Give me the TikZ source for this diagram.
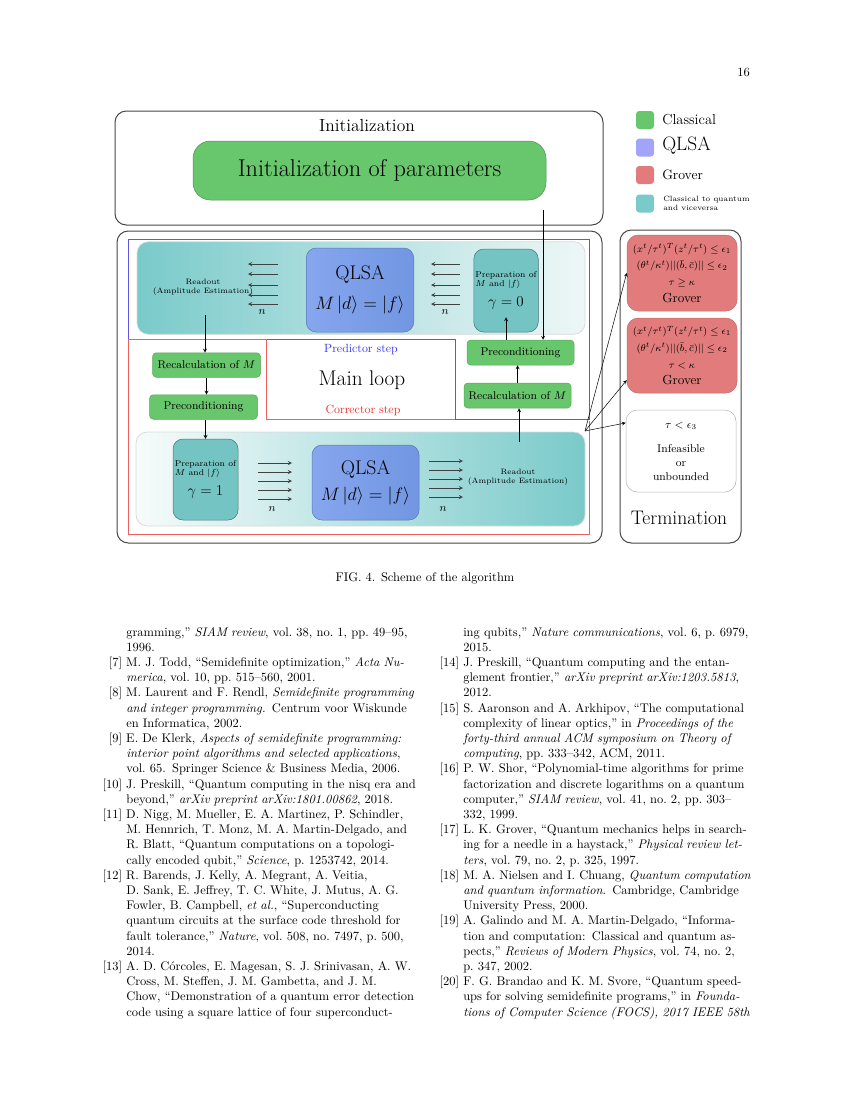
\documentclass[tikz,border=0pt]{standalone}
\usepackage{amsmath}
\usepackage{amssymb}
\usepackage{tikz}
\usetikzlibrary{positioning,calc}

\definecolor{clgreen}{RGB}{104,198,108}
\definecolor{legblue}{RGB}{162,164,250}
\definecolor{qblue}{RGB}{134,166,238}
\definecolor{qblued}{RGB}{114,150,226}
\definecolor{grred}{RGB}{226,124,124}
\definecolor{qteal}{RGB}{122,202,202}
\definecolor{qteall}{RGB}{238,247,247}
\definecolor{prepteal}{RGB}{116,196,196}
\definecolor{framegray}{RGB}{70,70,70}
\definecolor{predblue}{RGB}{55,55,235}
\definecolor{corrred}{RGB}{236,45,45}
\definecolor{predline}{RGB}{95,85,225}
\definecolor{corrline}{RGB}{238,95,95}

\newcommand\fsz[2]{\fontsize{#1}{#2}\selectfont}
\newcommand\bibln[1]{\hbox to\hsize{#1}}
\newcommand\bibend[1]{\hbox to\hsize{#1\hfil}}
\newcommand\biblab[1]{\llap{[#1]\ }}

\begin{document}
\begin{tikzpicture}[x=0.8pt,y=-0.8pt,>=stealth,
  frame/.style={draw=framegray,line width=0.8pt,rounded corners=9pt,inner sep=0pt},
  legsq/.style={rounded corners=2.5pt,minimum size=14.4pt,inner sep=0pt},
  band/.style={draw=black!15,line width=0.6pt,rounded corners=9pt,inner sep=0pt,
    minimum height=74pt},
  qlsabox/.style={draw=qblued!80!black,rounded corners=8pt,left color=qblue,right color=qblued,
    align=center,inner sep=0pt,minimum width=86pt},
  prepbox/.style={fill=prepteal,draw=prepteal!60!black,rounded corners=8pt,align=center,
    inner sep=0pt,minimum width=51.6pt,font=\fsz{6.8}{7.4}},
  clbox/.style={fill=clgreen,draw=clgreen!85!black,rounded corners=3pt,inner sep=0pt,
    minimum width=86.4pt,minimum height=19.6pt,font=\fsz{9}{11}},
  grovbox/.style={fill=grred,draw=grred!85!black,rounded corners=9pt,inner sep=0pt,
    minimum width=88pt,align=center,font=\fsz{8.5}{13.4}},
  readout/.style={align=center,font=\fsz{6.2}{7.4}},
  qline/.style={->,black!75,line width=0.5pt},
  outline/.style={line width=0.7pt},
  bibcol/.style={anchor=base west,inner sep=0pt,text width=229.6pt,font=\fsz{10}{12.16}}]
\useasboundingbox (0,0) rectangle (850,1100);

% page number
\node[anchor=base east,inner sep=0pt,font=\fsz{10}{12}] (pgnum) at (750,76) {16};

% initialization
\node[frame,minimum width=390.4pt,minimum height=91.2pt] (initframe) at (359,168) {};
\node[font=\fsz{14}{17}] (inittitle) at (367,126) {Initialization};
\node[fill=clgreen,draw=clgreen!75!black,rounded corners=14pt,minimum width=282.4pt,
  minimum height=47.2pt,font=\fsz{19.4}{23}] (initpar) at (369.5,170.5) {Initialization of parameters};
\coordinate (initout) at (543,210);

% legend
\node[legsq,fill=clgreen] (legcl) at (645,120) {};
\node[legsq,fill=legblue] (legq) at (645,147.5) {};
\node[legsq,fill=grred] (leggr) at (645,175) {};
\node[legsq,fill=qteal] (legct) at (645,203.5) {};
\node[anchor=west,inner sep=0pt,font=\fsz{11.6}{13}] (legcltxt) at (662,120) {Classical};
\node[anchor=west,inner sep=0pt,font=\fsz{15.5}{17}] (legqtxt) at (662,146) {QLSA};
\node[anchor=west,inner sep=0pt,font=\fsz{10.9}{12}] (leggrtxt) at (662,175) {Grover};
\node[anchor=west,inner sep=0pt,align=left,font=\fsz{6.1}{7.2}] (legcttxt) at (663,203) {Classical to quantum\\and viceversa};

% main loop frame and termination frame
\node[frame,minimum width=388pt,minimum height=249.6pt] (mainframe) at (359.5,387) {};
\node[frame,minimum width=96.8pt,minimum height=250.4pt] (termframe) at (680.5,386.5) {};

% quantum bands
\node[band,minimum width=358.4pt,left color=qteal,right color=qteall] (bandT) at (361,288) {};
\node[band,minimum width=359.2pt,minimum height=75.2pt,left color=qteall!50!white,right color=qteal] (bandB) at (360.5,479) {};

% predictor (blue) and corrector (red) outlines
\draw[outline,predline] (128,339) -- (128,239) -- (589,239) -- (589,419) -- (455,419) -- (455,339) -- (266,339);
\draw[outline,corrline] (589,421) -- (589,534) -- (128,534) -- (128,339) -- (266,339) -- (266,419) -- (455,419);

% top band (predictor)
\node[readout] (readT) at (203,287) {Readout\\(Amplitude Estimation)};
\node[qlsabox,minimum height=67.2pt] (qlsaT) at (360,290)
  {{\fsz{15.8}{19}QLSA}\\[9pt]{\fsz{14}{17}$M\,|d\rangle = |f\rangle$}};
\node[prepbox,minimum height=66.4pt] (prepT) at (506,290.5)
  {\begin{tabular}{@{}l@{}}Preparation of\\$M$ and $|f\rangle$\end{tabular}\\[5pt]{\fsz{12}{14}$\gamma=0$}};
\foreach \yy in {264,274,285,295,304} {
  \draw[qline] (278,\yy) -- (248,\yy);
  \draw[qline] (460,\yy) -- (431,\yy);
}
\node[font=\fsz{9}{10}] (nTl) at (262,312) {$n$};
\node[font=\fsz{9}{10}] (nTr) at (445,312) {$n$};
\coordinate (rdT) at (205,315);

% left column
\node[clbox] (recL) at (206.5,365) {Recalculation of $M$};
\node[clbox] (precL) at (203.5,407) {Preconditioning};

% centre
\node[text=predblue,font=\fsz{9.5}{11}] (predtxt) at (361,350) {Predictor step};
\node[font=\fsz{17}{20}] (mainloop) at (362,380) {Main loop};
\node[text=corrred,font=\fsz{9.5}{11}] (corrtxt) at (363,410) {Corrector step};

% right column
\node[clbox,minimum width=85.6pt,minimum height=20pt] (precR) at (520.5,352.5) {Preconditioning};
\node[clbox,minimum width=85.6pt,minimum height=20pt] (recR) at (517.5,395.5) {Recalculation of $M$};

% bottom band (corrector)
\node[prepbox,minimum width=52pt,minimum height=64.8pt] (prepB) at (205.5,479.5)
  {\begin{tabular}{@{}l@{}}Preparation of\\$M$ and $|f\rangle$\end{tabular}\\[5pt]{\fsz{12}{14}$\gamma=1$}};
\node[qlsabox,minimum width=85.6pt,minimum height=60pt] (qlsaB) at (365.5,482.5)
  {{\fsz{15.8}{19}QLSA}\\[6pt]{\fsz{14}{17}$M\,|d\rangle = |f\rangle$}};
\node[readout] (readB) at (518,477) {Readout\\(Amplitude Estimation)};
\foreach \yy in {463,472,481,490,499} {
  \draw[qline] (258,\yy) -- (292,\yy);
  \draw[qline] (429,\yy-2) -- (463,\yy-2);
}
\node[font=\fsz{9}{10}] (nBl) at (272,509) {$n$};
\node[font=\fsz{9}{10}] (nBr) at (443,509) {$n$};
\coordinate (bandout) at (519,442);
\coordinate (fan) at (585,431);

% termination
\node[grovbox,minimum height=60.8pt] (grov1) at (682,273)
  {$(x^t/\tau^t)^T(z^t/\tau^t)\le\epsilon_1$\\$(\theta^t/\kappa^t)||(\bar{b},\bar{c})||\le\epsilon_2$\\$\tau\ge\kappa$\\{\fsz{10.5}{12}Grover}};
\node[grovbox,minimum height=60pt] (grov2) at (682,355.5)
  {$(x^t/\tau^t)^T(z^t/\tau^t)\le\epsilon_1$\\$(\theta^t/\kappa^t)||(\bar{b},\bar{c})||\le\epsilon_2$\\$\tau<\kappa$\\{\fsz{10.5}{12}Grover}};
\node[draw=black!30,rounded corners=9pt,inner sep=0pt,minimum width=88pt,minimum height=65.6pt,
  align=center,font=\fsz{9}{11.2}] (infeas) at (681,451)
  {$\tau<\epsilon_3$\\[8pt]Infeasible\\or\\unbounded};
\node[font=\fsz{15.7}{18}] (termtxt) at (679,518) {Termination};

% connectors
\draw[->] (initout) -- (initout |- precR.north);
\draw[->,shorten >=-12pt] (precR.north -| prepT) -- (prepT.south);
\draw[->] (recR.north) -- (recR.north |- precR.south);
\draw[->] (bandout) -- (bandout |- recR.south);
\draw[->] (rdT) -- (rdT |- recL.north);
\draw[->] (recL.south) -- (recL.south |- precL.north);
\draw[->] (precL.south -| prepB) -- (prepB.north);
\draw[->] (fan) -- (grov1.west);
\draw[->] (fan) -- (grov2.204);
\draw[->] (fan) -- (infeas.153);

% caption
\node[anchor=base,inner sep=0pt,font=\fsz{10}{12}] (caption) at (425,581) {FIG. 4. Scheme of the algorithm};

% bibliography, left column
\node[bibcol] (bibL) at (126,636) {%
\bibln{gramming,” \textit{SIAM review}, vol.~38, no.~1, pp.~49–95,}
\bibend{1996.}
\bibln{\biblab{7}M. J. Todd, “Semidefinite optimization,” \textit{Acta Nu-}}
\bibend{\textit{merica}, vol.~10, pp.~515–560, 2001.}
\bibln{\biblab{8}M. Laurent and F. Rendl, \textit{Semidefinite programming}}
\bibln{\textit{and integer programming.} Centrum voor Wiskunde}
\bibend{en Informatica, 2002.}
\bibln{\biblab{9}E. De Klerk, \textit{Aspects of semidefinite programming:}}
\bibln{\textit{interior point algorithms and selected applications},}
\bibend{vol.~65. Springer Science \& Business Media, 2006.}
\bibln{\biblab{10}J. Preskill, “Quantum computing in the nisq era and}
\bibend{beyond,” \textit{arXiv preprint arXiv:1801.00862}, 2018.}
\bibln{\biblab{11}D. Nigg, M. Mueller, E. A. Martinez, P. Schindler,}
\bibln{M. Hennrich, T. Monz, M. A. Martin-Delgado, and}
\bibln{R. Blatt, “Quantum computations on a topologi-}
\bibend{cally encoded qubit,” \textit{Science}, p.~1253742, 2014.}
\bibln{\biblab{12}R. Barends, J. Kelly, A. Megrant, A. Veitia,}
\bibln{D. Sank, E. Jeffrey, T. C. White, J. Mutus, A. G.}
\bibln{Fowler, B. Campbell, \textit{et al.}, “Superconducting}
\bibln{quantum circuits at the surface code threshold for}
\bibln{fault tolerance,” \textit{Nature}, vol.~508, no.~7497, p.~500,}
\bibend{2014.}
\bibln{\biblab{13}A. D. Córcoles, E. Magesan, S. J. Srinivasan, A. W.}
\bibln{Cross, M. Steffen, J. M. Gambetta, and J. M.}
\bibln{Chow, “Demonstration of a quantum error detection}
\bibln{code using a square lattice of four superconduct-}};

% bibliography, right column
\node[bibcol] (bibR) at (463,636) {%
\bibln{ing qubits,” \textit{Nature communications}, vol.~6, p.~6979,}
\bibend{2015.}
\bibln{\biblab{14}J. Preskill, “Quantum computing and the entan-}
\bibln{glement frontier,” \textit{arXiv preprint arXiv:1203.5813},}
\bibend{2012.}
\bibln{\biblab{15}S. Aaronson and A. Arkhipov, “The computational}
\bibln{complexity of linear optics,” in \textit{Proceedings of the}}
\bibln{\textit{forty-third annual ACM symposium on Theory of}}
\bibend{\textit{computing}, pp.~333–342, ACM, 2011.}
\bibln{\biblab{16}P. W. Shor, “Polynomial-time algorithms for prime}
\bibln{factorization and discrete logarithms on a quantum}
\bibln{computer,” \textit{SIAM review}, vol.~41, no.~2, pp.~303–}
\bibend{332, 1999.}
\bibln{\biblab{17}L. K. Grover, “Quantum mechanics helps in search-}
\bibln{ing for a needle in a haystack,” \textit{Physical review let-}}
\bibend{\textit{ters}, vol.~79, no.~2, p.~325, 1997.}
\bibln{\biblab{18}M. A. Nielsen and I. Chuang, \textit{Quantum computation}}
\bibln{\textit{and quantum information}. Cambridge, Cambridge}
\bibend{University Press, 2000.}
\bibln{\biblab{19}A. Galindo and M. A. Martin-Delgado, “Informa-}
\bibln{tion and computation: Classical and quantum as-}
\bibln{pects,” \textit{Reviews of Modern Physics}, vol.~74, no.~2,}
\bibend{p.~347, 2002.}
\bibln{\biblab{20}F. G. Brandao and K. M. Svore, “Quantum speed-}
\bibln{ups for solving semidefinite programs,” in \textit{Founda-}}
\bibln{\textit{tions of Computer Science (FOCS), 2017 IEEE 58th}}};
\end{tikzpicture}
\end{document}
